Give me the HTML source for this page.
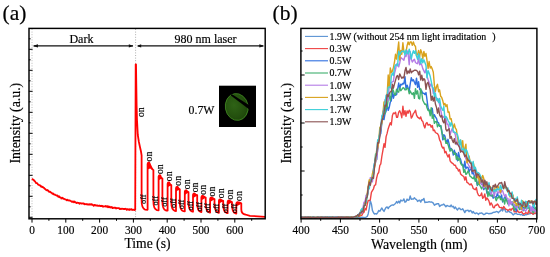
<!DOCTYPE html>
<html><head><meta charset="utf-8"><style>
html,body{margin:0;padding:0;background:#fff;width:550px;height:257px;overflow:hidden;font-family:"Liberation Serif",serif;}
svg{display:block;} text{filter:grayscale(1);stroke:#000;stroke-width:0.18px;}
</style></head><body>
<svg width="550" height="257" viewBox="0 0 550 257">
<rect width="550" height="257" fill="#fff"/>
<text x="2.6" y="19.6" font-size="21.5" font-family="'Liberation Serif', serif">(a)</text>
<text x="272.6" y="19.6" font-size="21.5" font-family="'Liberation Serif', serif">(b)</text>
<line x1="32.0" y1="29" x2="32.0" y2="218" stroke="#aaa" stroke-width="0.8" stroke-dasharray="1,1.6"/>
<line x1="135.6" y1="29" x2="135.6" y2="218" stroke="#999" stroke-width="0.8" stroke-dasharray="1,1.6"/>
<line x1="34" y1="45.9" x2="133" y2="45.9" stroke="#111" stroke-width="1.15"/>
<path d="M32.3,45.9 L38.0,44.3 L38.0,47.5 Z" fill="#111"/>
<path d="M133.4,45.9 L128.8,44.3 L128.8,47.5 Z" fill="#111"/>
<line x1="138" y1="45.9" x2="263" y2="45.9" stroke="#111" stroke-width="1.15"/>
<path d="M136.6,45.9 L141.2,44.3 L141.2,47.5 Z" fill="#111"/>
<path d="M264.6,45.9 L259.3,44.3 L259.3,47.5 Z" fill="#111"/>
<text x="81.4" y="42.6" font-size="12" text-anchor="middle" font-family="'Liberation Serif', serif">Dark</text>
<text x="205.6" y="42.6" font-size="12" text-anchor="middle" font-family="'Liberation Serif', serif">980 nm laser</text>
<path d="M32.0,178.6 L32.6,179.3 L33.2,179.7 L33.8,180.1 L34.4,180.9 L35.0,181.3 L35.6,182.3 L36.2,183.2 L36.8,183.1 L37.4,183.5 L38.0,184.4 L38.6,184.8 L39.2,185.1 L39.8,185.2 L40.4,185.9 L41.0,186.6 L41.6,186.3 L42.2,187.1 L42.8,187.0 L43.4,187.6 L44.0,187.8 L44.6,188.8 L45.2,188.8 L45.8,189.7 L46.4,190.1 L47.0,190.3 L47.6,189.9 L48.2,190.9 L48.8,191.5 L49.4,191.9 L50.0,191.6 L50.6,192.3 L51.2,192.5 L51.8,192.9 L52.4,193.8 L53.0,193.5 L53.6,194.1 L54.2,194.7 L54.8,194.5 L55.4,195.0 L56.0,195.3 L56.6,195.6 L57.2,195.4 L57.8,196.2 L58.4,196.9 L59.0,196.2 L59.6,197.3 L60.2,197.3 L60.8,197.3 L61.4,198.5 L62.0,198.3 L62.6,197.8 L63.2,198.5 L63.8,198.9 L64.4,198.9 L65.0,199.4 L65.6,199.4 L66.2,199.8 L66.8,200.3 L67.4,199.8 L68.0,200.3 L68.6,200.3 L69.2,200.7 L69.8,200.4 L70.4,200.8 L71.0,201.1 L71.6,201.7 L72.2,202.0 L72.8,201.3 L73.4,201.6 L74.0,202.3 L74.6,201.5 L75.2,202.2 L75.8,202.4 L76.4,203.0 L77.0,202.9 L77.6,202.7 L78.2,202.8 L78.8,202.9 L79.4,203.7 L80.0,203.1 L80.6,203.2 L81.2,203.5 L81.8,203.5 L82.4,203.5 L83.0,203.3 L83.6,203.8 L84.2,203.7 L84.8,204.3 L85.4,204.2 L86.0,204.1 L86.6,204.4 L87.2,204.1 L87.8,204.7 L88.4,204.4 L89.0,204.7 L89.6,204.1 L90.2,204.7 L90.8,204.1 L91.4,204.1 L92.0,204.8 L92.6,204.6 L93.2,205.1 L93.8,205.9 L94.4,204.9 L95.0,205.0 L95.6,205.4 L96.2,205.6 L96.8,205.4 L97.4,205.5 L98.0,205.9 L98.6,205.9 L99.2,205.5 L99.8,205.9 L100.4,206.0 L101.0,205.7 L101.6,206.2 L102.2,205.9 L102.8,206.6 L103.4,206.4 L104.0,206.5 L104.6,206.3 L105.2,206.5 L105.8,205.9 L106.4,206.3 L107.0,206.9 L107.6,206.1 L108.2,207.2 L108.8,206.4 L109.4,207.3 L110.0,206.8 L110.6,207.5 L111.2,207.4 L111.8,206.9 L112.4,208.0 L113.0,208.1 L113.6,207.7 L114.2,207.7 L114.8,207.9 L115.4,207.7 L116.0,208.5 L116.6,208.0 L117.2,208.2 L117.8,208.1 L118.4,208.2 L119.0,208.1 L119.6,209.0 L120.2,208.6 L120.8,209.1 L121.4,208.8 L122.0,208.6 L122.6,208.8 L123.2,208.8 L123.8,209.1 L124.4,209.0 L125.0,209.1 L125.6,208.7 L126.2,209.0 L126.8,209.9 L127.4,209.2 L128.0,209.1 L128.6,209.6 L129.2,210.0 L129.8,209.1 L130.4,209.6 L131.0,209.5 L131.6,209.1 L132.2,210.0 L132.8,209.8 L133.4,209.9 L134.0,209.6 L134.6,210.1 L135.2,209.8 L135.7,64.3 L136.0,64.3 L136.3,85 L136.6,105 L137.0,120 L137.8,135 L138.9,142 L139.9,146.7 L141.0,151.5 L141.6,155.5 L141.6,200.6 Q141.6,208.6 145.1,209.6 L147.6,209.8 L147.6,164.1 Q148.0,162.1 149.2,162.6 Q151.9,169.5 153.4,170.0 L153.4,201.1 Q153.4,209.1 156.9,210.1 L158.6,210.3 L158.6,176.8 Q159.0,174.8 160.2,175.3 Q160.9,178.0 162.4,178.5 L162.4,201.5 Q162.4,209.5 165.9,210.5 L167.6,210.7 L167.6,183.9 Q168.0,181.9 169.2,182.4 Q169.8,184.5 171.3,185.0 L171.3,201.8 Q171.3,209.8 174.8,210.8 L176.0,211.0 L176.0,188.4 Q176.4,186.4 177.6,186.9 Q178.3,188.8 179.8,189.3 L179.8,202.2 Q179.8,210.2 183.3,211.2 L184.8,211.4 L184.8,191.9 Q185.2,189.9 186.4,190.4 Q187.0,191.7 188.5,192.2 L188.5,202.5 Q188.5,210.5 192.0,211.5 L193.0,211.7 L193.0,195.0 Q193.4,193.0 194.6,193.5 Q195.7,194.7 197.2,195.2 L197.2,202.9 Q197.2,210.9 200.7,211.9 L201.4,212.1 L201.4,197.4 Q201.8,195.4 203.0,195.9 Q204.2,197.0 205.7,197.5 L205.7,203.3 Q205.7,211.3 209.2,212.3 L210.1,212.5 L210.1,199.1 Q210.5,197.1 211.7,197.6 Q213.0,198.5 214.5,199.0 L214.5,203.6 Q214.5,211.6 218.0,212.6 L218.9,212.8 L218.9,200.9 Q219.3,198.9 220.5,199.4 Q221.7,200.3 223.2,200.8 L223.2,204.0 Q223.2,212.0 226.7,213.0 L227.6,213.2 L227.6,202.1 Q228.0,200.1 229.2,200.6 Q230.5,201.5 232.0,202.0 L232.0,204.4 Q232.0,212.4 235.5,213.4 L236.3,213.6 L236.3,203.7 Q236.7,201.7 237.9,202.2 Q239.8,202.8 241.3,203.3 L241.3,209.2 Q241.3,213.7 245.3,214.5 L250,215.8 L265,216.8" fill="none" stroke="#f00" stroke-width="1.8" stroke-linejoin="round"/>
<path d="M147.6,163.4 L148.4,162.3 L153.1,169.8 L153.1,170.6 L150.2,168.5 L147.6,169.4 Z" fill="#f00"/>
<path d="M158.6,176.1 L159.4,175.0 L162.1,178.3 L162.1,179.1 L160.3,179.3 L158.6,180.4 Z" fill="#f00"/>
<path d="M167.6,183.2 L168.4,182.1 L171.0,184.8 L171.0,185.6 L169.3,186.2 L167.6,187.2 Z" fill="#f00"/>
<path d="M176.0,187.7 L176.8,186.6 L179.5,189.1 L179.5,189.9 L177.7,190.6 L176.0,191.7 Z" fill="#f00"/>
<path d="M184.8,191.2 L185.6,190.1 L188.2,192.0 L188.2,192.8 L186.5,193.8 L184.8,194.9 Z" fill="#f00"/>
<path d="M193.0,194.3 L193.8,193.2 L196.9,195.0 L196.9,195.8 L194.9,196.9 L193.0,198.0 Z" fill="#f00"/>
<path d="M201.4,196.7 L202.2,195.6 L205.4,197.3 L205.4,198.1 L203.3,199.2 L201.4,200.3 Z" fill="#f00"/>
<path d="M210.1,198.4 L210.9,197.3 L214.2,198.8 L214.2,199.6 L212.1,200.8 L210.1,202.0 Z" fill="#f00"/>
<path d="M218.9,200.2 L219.7,199.1 L222.9,200.6 L222.9,201.4 L220.8,202.6 L218.9,203.8 Z" fill="#f00"/>
<path d="M227.6,201.4 L228.4,200.3 L231.7,201.8 L231.7,202.6 L229.6,203.8 L227.6,205.0 Z" fill="#f00"/>
<path d="M236.3,203.0 L237.1,201.9 L241.0,203.1 L241.0,203.9 L238.6,205.3 L236.3,206.4 Z" fill="#f00"/>
<text transform="translate(143.8,117.1) rotate(-90)" font-size="9.8" font-family="'Liberation Serif', serif">on</text>
<text transform="translate(152.0,161.4) rotate(-90)" font-size="9.8" font-family="'Liberation Serif', serif">on</text>
<text transform="translate(163.1,174.1) rotate(-90)" font-size="9.8" font-family="'Liberation Serif', serif">on</text>
<text transform="translate(172.2,181.2) rotate(-90)" font-size="9.8" font-family="'Liberation Serif', serif">on</text>
<text transform="translate(180.7,185.7) rotate(-90)" font-size="9.8" font-family="'Liberation Serif', serif">on</text>
<text transform="translate(189.6,189.2) rotate(-90)" font-size="9.8" font-family="'Liberation Serif', serif">on</text>
<text transform="translate(197.9,192.3) rotate(-90)" font-size="9.8" font-family="'Liberation Serif', serif">on</text>
<text transform="translate(206.3,194.7) rotate(-90)" font-size="9.8" font-family="'Liberation Serif', serif">on</text>
<text transform="translate(215.1,196.4) rotate(-90)" font-size="9.8" font-family="'Liberation Serif', serif">on</text>
<text transform="translate(224.0,198.2) rotate(-90)" font-size="9.8" font-family="'Liberation Serif', serif">on</text>
<text transform="translate(232.8,199.4) rotate(-90)" font-size="9.8" font-family="'Liberation Serif', serif">on</text>
<text transform="translate(241.6,201.0) rotate(-90)" font-size="9.8" font-family="'Liberation Serif', serif">on</text>
<text transform="translate(146.2,203.9) rotate(-90)" font-size="8.3" font-family="'Liberation Serif', serif">off</text>
<text transform="translate(158.0,205.6) rotate(-90)" font-size="8.3" font-family="'Liberation Serif', serif">off</text>
<text transform="translate(167.0,206.8) rotate(-90)" font-size="8.3" font-family="'Liberation Serif', serif">off</text>
<text transform="translate(175.9,208.0) rotate(-90)" font-size="8.3" font-family="'Liberation Serif', serif">off</text>
<text transform="translate(184.4,209.2) rotate(-90)" font-size="8.3" font-family="'Liberation Serif', serif">off</text>
<text transform="translate(193.1,210.4) rotate(-90)" font-size="8.3" font-family="'Liberation Serif', serif">off</text>
<text transform="translate(201.8,211.6) rotate(-90)" font-size="8.3" font-family="'Liberation Serif', serif">off</text>
<text transform="translate(210.3,212.8) rotate(-90)" font-size="8.3" font-family="'Liberation Serif', serif">off</text>
<text transform="translate(219.1,213.2) rotate(-90)" font-size="8.3" font-family="'Liberation Serif', serif">off</text>
<text transform="translate(227.8,213.2) rotate(-90)" font-size="8.3" font-family="'Liberation Serif', serif">off</text>
<text transform="translate(236.6,213.2) rotate(-90)" font-size="8.3" font-family="'Liberation Serif', serif">off</text>
<text x="188.6" y="113.5" font-size="11.8" font-family="'Liberation Serif', serif">0.7W</text>
<rect x="219" y="85.7" width="37" height="41.3" fill="#000"/>
<defs><radialGradient id="gg" cx="0.4" cy="0.42" r="0.65"><stop offset="0" stop-color="#2f6316"/><stop offset="0.6" stop-color="#25520f"/><stop offset="0.9" stop-color="#1f480b"/><stop offset="1" stop-color="#2c6a14"/></radialGradient></defs>
<ellipse cx="236.7" cy="107.0" rx="11.4" ry="13.5" fill="url(#gg)" stroke="#4a9a28" stroke-width="0.8" stroke-opacity="0.8" transform="rotate(-10 236.6 106.9)"/>
<path d="M231.6,93.9 L250.5,106.0 L249.0,109.2 L230.8,95.4 Z" fill="#000"/>
<rect x="29.0" y="28.4" width="236.2" height="190.4" fill="none" stroke="#000" stroke-width="1.45"/>
<line x1="32.0" y1="218.8" x2="32.0" y2="222.6" stroke="#000" stroke-width="1"/>
<text transform="translate(32.0,234.4) scale(0.93,1)" font-size="12.2" text-anchor="middle" font-family="'Liberation Serif', serif">0</text>
<line x1="65.8" y1="218.8" x2="65.8" y2="222.6" stroke="#000" stroke-width="1"/>
<text transform="translate(65.8,234.4) scale(0.93,1)" font-size="12.2" text-anchor="middle" font-family="'Liberation Serif', serif">100</text>
<line x1="99.6" y1="218.8" x2="99.6" y2="222.6" stroke="#000" stroke-width="1"/>
<text transform="translate(99.6,234.4) scale(0.93,1)" font-size="12.2" text-anchor="middle" font-family="'Liberation Serif', serif">200</text>
<line x1="133.4" y1="218.8" x2="133.4" y2="222.6" stroke="#000" stroke-width="1"/>
<text transform="translate(133.4,234.4) scale(0.93,1)" font-size="12.2" text-anchor="middle" font-family="'Liberation Serif', serif">300</text>
<line x1="167.2" y1="218.8" x2="167.2" y2="222.6" stroke="#000" stroke-width="1"/>
<text transform="translate(167.2,234.4) scale(0.93,1)" font-size="12.2" text-anchor="middle" font-family="'Liberation Serif', serif">400</text>
<line x1="201.0" y1="218.8" x2="201.0" y2="222.6" stroke="#000" stroke-width="1"/>
<text transform="translate(201.0,234.4) scale(0.93,1)" font-size="12.2" text-anchor="middle" font-family="'Liberation Serif', serif">500</text>
<line x1="234.8" y1="218.8" x2="234.8" y2="222.6" stroke="#000" stroke-width="1"/>
<text transform="translate(234.8,234.4) scale(0.93,1)" font-size="12.2" text-anchor="middle" font-family="'Liberation Serif', serif">600</text>
<line x1="48.9" y1="218.8" x2="48.9" y2="220.8" stroke="#000" stroke-width="1"/>
<line x1="82.7" y1="218.8" x2="82.7" y2="220.8" stroke="#000" stroke-width="1"/>
<line x1="116.5" y1="218.8" x2="116.5" y2="220.8" stroke="#000" stroke-width="1"/>
<line x1="150.3" y1="218.8" x2="150.3" y2="220.8" stroke="#000" stroke-width="1"/>
<line x1="184.1" y1="218.8" x2="184.1" y2="220.8" stroke="#000" stroke-width="1"/>
<line x1="217.9" y1="218.8" x2="217.9" y2="220.8" stroke="#000" stroke-width="1"/>
<line x1="251.7" y1="218.8" x2="251.7" y2="220.8" stroke="#000" stroke-width="1"/>
<line x1="28.9" y1="217.3" x2="32.6" y2="217.3" stroke="#000" stroke-width="1"/>
<line x1="28.9" y1="206.8" x2="30.6" y2="206.8" stroke="#000" stroke-width="1"/>
<line x1="28.9" y1="196.3" x2="32.6" y2="196.3" stroke="#000" stroke-width="1"/>
<line x1="28.9" y1="185.8" x2="30.6" y2="185.8" stroke="#000" stroke-width="1"/>
<line x1="28.9" y1="175.3" x2="32.6" y2="175.3" stroke="#000" stroke-width="1"/>
<line x1="28.9" y1="164.8" x2="30.6" y2="164.8" stroke="#000" stroke-width="1"/>
<line x1="28.9" y1="154.3" x2="32.6" y2="154.3" stroke="#000" stroke-width="1"/>
<line x1="28.9" y1="143.8" x2="30.6" y2="143.8" stroke="#000" stroke-width="1"/>
<line x1="28.9" y1="133.3" x2="32.6" y2="133.3" stroke="#000" stroke-width="1"/>
<line x1="28.9" y1="122.8" x2="30.6" y2="122.8" stroke="#000" stroke-width="1"/>
<line x1="28.9" y1="112.3" x2="32.6" y2="112.3" stroke="#000" stroke-width="1"/>
<line x1="28.9" y1="101.8" x2="30.6" y2="101.8" stroke="#000" stroke-width="1"/>
<line x1="28.9" y1="91.3" x2="32.6" y2="91.3" stroke="#000" stroke-width="1"/>
<line x1="28.9" y1="80.8" x2="30.6" y2="80.8" stroke="#000" stroke-width="1"/>
<line x1="28.9" y1="70.3" x2="32.6" y2="70.3" stroke="#000" stroke-width="1"/>
<line x1="28.9" y1="59.8" x2="30.6" y2="59.8" stroke="#000" stroke-width="1"/>
<line x1="28.9" y1="49.3" x2="32.6" y2="49.3" stroke="#000" stroke-width="1"/>
<line x1="28.9" y1="38.8" x2="30.6" y2="38.8" stroke="#000" stroke-width="1"/>
<text x="147.5" y="247.6" font-size="13.6" text-anchor="middle" font-family="'Liberation Serif', serif">Time (s)</text>
<text transform="translate(19.7,123.2) rotate(-90)" font-size="13.8" text-anchor="middle" font-family="'Liberation Serif', serif">Intensity (a.u.)</text>
<polyline points="301.0,217.4 302.1,217.3 303.1,217.3 304.2,217.6 305.2,217.3 306.3,217.4 307.3,217.4 308.4,217.3 309.4,217.3 310.5,217.5 311.5,217.4 312.6,217.4 313.6,217.4 314.7,217.5 315.7,217.5 316.8,217.4 317.8,217.3 318.9,217.2 319.9,217.5 321.0,217.5 322.0,217.4 323.1,217.5 324.1,217.5 325.2,217.5 326.2,217.5 327.3,217.3 328.3,217.6 329.4,217.3 330.4,217.5 331.5,217.5 332.5,217.5 333.6,217.6 334.6,217.6 335.7,217.3 336.7,217.2 337.8,217.5 338.8,217.3 339.9,217.4 340.9,217.5 342.0,217.2 343.0,217.1 344.1,217.4 345.1,217.4 346.2,217.4 347.2,217.4 348.3,217.3 349.3,217.2 350.4,217.4 351.4,217.3 352.5,217.2 353.5,217.5 354.6,217.4 355.6,217.4 356.7,217.3 357.7,217.3 358.8,217.3 359.8,217.3 360.9,217.4 361.9,217.3 363.0,217.4 364.0,217.4 365.1,217.6 366.1,217.2 367.2,216.5 368.2,213.9 369.3,208.3 370.3,200.7 371.4,203.9 372.4,210.4 373.5,212.8 374.5,214.0 375.6,213.6 376.6,214.0 377.7,212.6 378.7,210.5 379.8,211.3 380.8,209.7 381.9,208.0 382.9,210.0 384.0,211.4 385.0,209.3 386.1,207.3 387.1,206.9 388.2,208.6 389.2,206.8 390.3,206.1 391.3,205.3 392.4,204.9 393.4,205.2 394.5,204.3 395.5,203.5 396.6,201.6 397.6,203.0 398.7,201.2 399.7,203.0 400.8,199.9 401.8,200.9 402.9,200.7 403.9,198.9 405.0,202.2 406.0,201.6 407.1,199.1 408.1,200.4 409.2,199.8 410.2,196.0 411.3,199.4 412.3,198.9 413.4,199.1 414.4,197.8 415.5,199.1 416.5,199.5 417.6,201.4 418.6,200.5 419.7,200.2 420.7,202.1 421.8,199.7 422.8,200.0 423.9,198.4 424.9,202.6 426.0,202.1 427.0,202.2 428.1,202.1 429.1,201.7 430.2,202.1 431.2,201.9 432.3,202.4 433.3,203.1 434.4,205.3 435.4,204.5 436.5,204.0 437.5,203.6 438.6,203.7 439.6,206.5 440.7,205.4 441.7,205.0 442.8,204.7 443.8,204.1 444.9,205.5 445.9,206.8 447.0,205.5 448.0,205.9 449.1,206.2 450.1,206.7 451.2,205.0 452.2,206.8 453.3,206.3 454.3,208.5 455.4,207.0 456.4,208.7 457.5,210.0 458.5,208.3 459.6,208.3 460.6,209.5 461.7,209.6 462.7,208.8 463.8,210.7 464.8,212.6 465.9,210.4 466.9,210.7 468.0,210.2 469.0,211.7 470.1,210.5 471.1,210.9 472.2,213.0 473.2,211.5 474.3,213.2 475.3,213.7 476.4,212.9 477.4,213.3 478.5,214.4 479.5,213.2 480.6,213.2 481.6,212.9 482.7,213.8 483.7,214.6 484.8,214.3 485.8,213.2 486.9,213.2 487.9,213.4 489.0,213.8 490.0,213.4 491.1,213.5 492.1,213.2 493.2,212.4 494.2,212.2 495.3,212.1 496.3,211.5 497.4,211.6 498.4,212.7 499.5,211.4 500.5,210.8 501.6,208.9 502.6,211.0 503.7,208.6 504.7,209.3 505.8,211.9 506.8,212.1 507.9,211.8 508.9,210.9 510.0,212.3 511.0,212.5 512.1,213.6 513.1,214.9 514.2,213.9 515.2,213.5 516.3,213.5 517.3,214.3 518.4,214.4 519.4,214.1 520.5,214.8 521.5,214.3 522.6,215.3 523.6,215.2 524.7,215.2 525.7,214.4 526.8,214.7 527.8,214.2 528.9,213.9 529.9,213.8 531.0,213.2 532.0,212.9 533.1,214.1 534.1,213.3 535.2,213.4 536.2,213.8" fill="none" stroke="#5b93d3" stroke-width="1.4" stroke-linejoin="round"/>
<polyline points="301.0,217.2 302.1,217.3 303.1,217.4 304.2,217.4 305.2,217.4 306.3,217.5 307.3,217.4 308.4,217.3 309.4,217.3 310.5,217.5 311.5,217.5 312.6,217.2 313.6,217.6 314.7,217.5 315.7,217.6 316.8,217.4 317.8,217.4 318.9,217.3 319.9,217.7 321.0,217.4 322.0,217.6 323.1,217.3 324.1,217.4 325.2,217.2 326.2,217.4 327.3,217.5 328.3,217.2 329.4,217.5 330.4,217.4 331.5,217.3 332.5,217.3 333.6,217.3 334.6,217.4 335.7,217.3 336.7,217.3 337.8,217.4 338.8,217.3 339.9,217.2 340.9,217.4 342.0,217.5 343.0,217.2 344.1,217.4 345.1,217.3 346.2,217.3 347.2,217.5 348.3,217.3 349.3,217.6 350.4,217.3 351.4,217.4 352.5,217.4 353.5,217.3 354.6,217.5 355.6,217.3 356.7,217.2 357.7,216.9 358.8,216.3 359.8,216.0 360.9,215.4 361.9,215.2 363.0,212.9 364.0,212.4 365.1,208.5 366.1,209.9 367.2,204.4 368.2,200.4 369.3,200.6 370.3,199.9 371.4,192.3 372.4,190.6 373.5,188.8 374.5,185.3 375.6,184.9 376.6,178.2 377.7,173.9 378.7,172.5 379.8,165.5 380.8,163.8 381.9,156.0 382.9,150.4 384.0,143.8 385.0,147.4 386.1,136.6 387.1,133.4 388.2,128.7 389.2,125.8 390.3,122.7 391.3,125.0 392.4,115.4 393.4,113.0 394.5,113.6 395.5,112.2 396.6,117.3 397.6,117.2 398.7,112.1 399.7,110.8 400.8,113.3 401.8,117.7 402.9,106.2 403.9,115.0 405.0,110.6 406.0,116.4 407.1,110.9 408.1,113.2 409.2,110.2 410.2,111.7 411.3,118.1 412.3,116.6 413.4,113.5 414.4,112.4 415.5,110.2 416.5,115.1 417.6,117.1 418.6,117.9 419.7,118.8 420.7,116.9 421.8,120.5 422.8,121.4 423.9,125.6 424.9,127.9 426.0,123.5 427.0,122.6 428.1,125.2 429.1,124.5 430.2,124.8 431.2,127.2 432.3,125.5 433.3,130.6 434.4,130.1 435.4,132.5 436.5,133.1 437.5,133.6 438.6,135.5 439.6,139.9 440.7,141.8 441.7,146.2 442.8,148.1 443.8,147.3 444.9,152.9 445.9,151.4 447.0,154.8 448.0,157.0 449.1,154.4 450.1,160.8 451.2,162.4 452.2,163.1 453.3,163.9 454.3,165.3 455.4,165.3 456.4,168.0 457.5,168.5 458.5,171.1 459.6,169.6 460.6,174.0 461.7,175.1 462.7,175.8 463.8,176.5 464.8,180.0 465.9,176.8 466.9,182.3 468.0,182.9 469.0,183.9 470.1,184.9 471.1,183.8 472.2,185.6 473.2,188.4 474.3,189.1 475.3,189.7 476.4,187.6 477.4,192.8 478.5,195.2 479.5,195.9 480.6,195.4 481.6,192.9 482.7,198.4 483.7,197.3 484.8,194.0 485.8,200.3 486.9,197.9 487.9,199.2 489.0,201.1 490.0,205.1 491.1,202.9 492.1,204.5 493.2,207.5 494.2,207.7 495.3,205.2 496.3,205.4 497.4,204.0 498.4,205.3 499.5,207.4 500.5,207.6 501.6,207.4 502.6,209.1 503.7,206.5 504.7,207.9 505.8,209.4 506.8,209.5 507.9,210.6 508.9,209.8 510.0,209.0 511.0,210.4 512.1,208.6 513.1,208.1 514.2,211.8 515.2,211.3 516.3,212.1 517.3,210.1 518.4,212.1 519.4,212.3 520.5,212.4 521.5,211.4 522.6,213.2 523.6,214.2 524.7,213.7 525.7,212.7 526.8,213.1 527.8,213.8 528.9,210.2 529.9,212.6 531.0,213.1 532.0,213.2 533.1,214.2 534.1,213.6 535.2,212.9 536.2,213.1" fill="none" stroke="#ef4343" stroke-width="1.4" stroke-linejoin="round"/>
<polyline points="301.0,217.5 302.1,217.3 303.1,217.4 304.2,217.5 305.2,217.6 306.3,217.4 307.3,217.4 308.4,217.4 309.4,217.6 310.5,217.4 311.5,217.6 312.6,217.3 313.6,217.4 314.7,217.4 315.7,217.5 316.8,217.5 317.8,217.2 318.9,217.3 319.9,217.4 321.0,217.3 322.0,217.2 323.1,217.5 324.1,217.5 325.2,217.5 326.2,217.3 327.3,217.5 328.3,217.4 329.4,217.5 330.4,217.3 331.5,217.3 332.5,217.4 333.6,217.3 334.6,217.5 335.7,217.4 336.7,217.3 337.8,217.4 338.8,217.4 339.9,217.5 340.9,217.3 342.0,217.3 343.0,217.5 344.1,217.7 345.1,217.6 346.2,217.4 347.2,217.4 348.3,217.6 349.3,217.4 350.4,217.3 351.4,217.4 352.5,217.4 353.5,217.1 354.6,216.6 355.6,216.2 356.7,216.5 357.7,215.2 358.8,214.6 359.8,213.9 360.9,213.3 361.9,210.4 363.0,210.1 364.0,204.8 365.1,202.7 366.1,197.4 367.2,197.1 368.2,188.9 369.3,181.3 370.3,180.0 371.4,178.9 372.4,179.1 373.5,168.6 374.5,163.3 375.6,158.5 376.6,159.8 377.7,148.8 378.7,139.5 379.8,135.4 380.8,133.4 381.9,122.0 382.9,118.2 384.0,119.6 385.0,113.6 386.1,111.1 387.1,104.6 388.2,110.4 389.2,107.6 390.3,102.0 391.3,100.9 392.4,90.3 393.4,98.2 394.5,94.2 395.5,95.2 396.6,94.6 397.6,89.3 398.7,83.0 399.7,89.1 400.8,84.2 401.8,84.8 402.9,83.3 403.9,83.9 405.0,76.7 406.0,88.7 407.1,85.1 408.1,88.0 409.2,91.0 410.2,84.1 411.3,77.7 412.3,80.9 413.4,79.8 414.4,82.3 415.5,84.7 416.5,78.2 417.6,87.3 418.6,81.8 419.7,89.6 420.7,89.8 421.8,90.9 422.8,93.4 423.9,93.3 424.9,94.6 426.0,92.6 427.0,99.9 428.1,108.1 429.1,110.6 430.2,110.5 431.2,110.7 432.3,108.3 433.3,117.4 434.4,114.7 435.4,116.9 436.5,118.5 437.5,122.1 438.6,122.9 439.6,126.4 440.7,125.5 441.7,129.8 442.8,139.9 443.8,134.6 444.9,136.0 445.9,140.3 447.0,142.8 448.0,139.3 449.1,143.8 450.1,148.9 451.2,148.5 452.2,149.6 453.3,155.1 454.3,150.1 455.4,153.7 456.4,153.5 457.5,160.7 458.5,152.5 459.6,157.5 460.6,159.3 461.7,163.8 462.7,164.8 463.8,168.1 464.8,161.2 465.9,168.7 466.9,167.1 468.0,167.4 469.0,172.0 470.1,169.5 471.1,167.9 472.2,173.8 473.2,172.3 474.3,175.9 475.3,179.8 476.4,181.0 477.4,185.5 478.5,182.3 479.5,180.3 480.6,183.5 481.6,184.3 482.7,184.7 483.7,189.6 484.8,188.0 485.8,185.9 486.9,193.1 487.9,192.1 489.0,194.0 490.0,194.2 491.1,196.0 492.1,195.1 493.2,198.2 494.2,196.7 495.3,196.9 496.3,197.2 497.4,193.3 498.4,196.4 499.5,196.5 500.5,197.9 501.6,194.9 502.6,202.0 503.7,199.2 504.7,197.0 505.8,196.7 506.8,200.4 507.9,201.5 508.9,200.8 510.0,203.0 511.0,202.1 512.1,205.1 513.1,203.0 514.2,205.0 515.2,207.6 516.3,211.2 517.3,204.5 518.4,206.0 519.4,205.6 520.5,209.1 521.5,205.7 522.6,207.3 523.6,208.5 524.7,207.0 525.7,207.2 526.8,208.3 527.8,205.3 528.9,206.5 529.9,208.5 531.0,209.6 532.0,208.9 533.1,205.9 534.1,208.4 535.2,210.8 536.2,210.4" fill="none" stroke="#2f6fe0" stroke-width="1.4" stroke-linejoin="round"/>
<polyline points="301.0,217.4 302.1,217.3 303.1,217.5 304.2,217.3 305.2,217.3 306.3,217.3 307.3,217.6 308.4,217.4 309.4,217.5 310.5,217.3 311.5,217.5 312.6,217.3 313.6,217.4 314.7,217.7 315.7,217.5 316.8,217.3 317.8,217.4 318.9,217.4 319.9,217.5 321.0,217.3 322.0,217.2 323.1,217.4 324.1,217.4 325.2,217.4 326.2,217.6 327.3,217.4 328.3,217.5 329.4,217.3 330.4,217.5 331.5,217.7 332.5,217.5 333.6,217.4 334.6,217.4 335.7,217.6 336.7,217.3 337.8,217.4 338.8,217.5 339.9,217.5 340.9,217.3 342.0,217.4 343.0,217.4 344.1,217.4 345.1,217.4 346.2,217.3 347.2,217.4 348.3,217.5 349.3,217.3 350.4,217.4 351.4,217.5 352.5,217.3 353.5,217.3 354.6,216.8 355.6,216.9 356.7,217.0 357.7,216.6 358.8,214.6 359.8,214.4 360.9,212.7 361.9,211.2 363.0,211.9 364.0,204.1 365.1,205.5 366.1,199.5 367.2,197.5 368.2,189.4 369.3,181.6 370.3,181.6 371.4,181.2 372.4,177.4 373.5,174.0 374.5,164.8 375.6,153.9 376.6,155.0 377.7,148.0 378.7,140.2 379.8,133.5 380.8,130.1 381.9,121.0 382.9,116.3 384.0,113.5 385.0,113.7 386.1,102.5 387.1,107.8 388.2,99.3 389.2,95.3 390.3,100.5 391.3,93.7 392.4,88.5 393.4,90.8 394.5,94.4 395.5,94.8 396.6,89.2 397.6,91.5 398.7,92.2 399.7,87.6 400.8,90.7 401.8,89.4 402.9,87.8 403.9,88.0 405.0,89.9 406.0,89.9 407.1,88.0 408.1,88.6 409.2,93.7 410.2,90.9 411.3,93.3 412.3,94.5 413.4,92.7 414.4,98.4 415.5,88.6 416.5,94.1 417.6,90.8 418.6,98.4 419.7,98.9 420.7,88.6 421.8,93.4 422.8,100.3 423.9,102.5 424.9,104.4 426.0,104.0 427.0,107.8 428.1,110.5 429.1,110.2 430.2,115.7 431.2,107.6 432.3,118.4 433.3,115.3 434.4,123.3 435.4,121.6 436.5,121.4 437.5,126.8 438.6,124.5 439.6,125.9 440.7,125.7 441.7,132.0 442.8,135.6 443.8,139.2 444.9,137.9 445.9,143.4 447.0,142.6 448.0,144.4 449.1,148.2 450.1,151.2 451.2,148.9 452.2,150.7 453.3,152.3 454.3,154.3 455.4,153.0 456.4,159.3 457.5,156.7 458.5,160.2 459.6,158.3 460.6,163.2 461.7,165.1 462.7,164.8 463.8,172.4 464.8,169.6 465.9,174.4 466.9,173.6 468.0,171.0 469.0,173.0 470.1,176.4 471.1,176.8 472.2,178.1 473.2,178.7 474.3,176.4 475.3,181.3 476.4,177.8 477.4,185.0 478.5,183.6 479.5,184.7 480.6,186.8 481.6,188.9 482.7,186.0 483.7,186.2 484.8,188.5 485.8,187.2 486.9,190.3 487.9,196.6 489.0,191.6 490.0,195.9 491.1,192.1 492.1,196.2 493.2,195.3 494.2,196.2 495.3,197.9 496.3,200.7 497.4,197.7 498.4,197.9 499.5,196.0 500.5,199.6 501.6,198.4 502.6,201.1 503.7,199.8 504.7,204.0 505.8,197.1 506.8,201.1 507.9,204.0 508.9,202.1 510.0,201.8 511.0,203.4 512.1,201.8 513.1,205.2 514.2,210.2 515.2,208.2 516.3,204.5 517.3,205.4 518.4,206.6 519.4,209.6 520.5,206.6 521.5,207.2 522.6,210.4 523.6,210.7 524.7,208.7 525.7,207.6 526.8,207.0 527.8,208.5 528.9,205.8 529.9,211.1 531.0,208.5 532.0,210.4 533.1,212.8 534.1,211.4 535.2,207.1 536.2,210.7" fill="none" stroke="#3fb06e" stroke-width="1.4" stroke-linejoin="round"/>
<polyline points="301.0,217.5 302.1,217.3 303.1,217.3 304.2,217.4 305.2,217.2 306.3,217.6 307.3,217.1 308.4,217.3 309.4,217.4 310.5,217.4 311.5,217.4 312.6,217.4 313.6,217.4 314.7,217.5 315.7,217.1 316.8,217.4 317.8,217.3 318.9,217.4 319.9,217.4 321.0,217.3 322.0,217.3 323.1,217.5 324.1,217.4 325.2,217.3 326.2,217.6 327.3,217.7 328.3,217.2 329.4,217.4 330.4,217.7 331.5,217.5 332.5,217.4 333.6,217.4 334.6,217.3 335.7,217.4 336.7,217.3 337.8,217.5 338.8,217.4 339.9,217.3 340.9,217.3 342.0,217.4 343.0,217.3 344.1,217.4 345.1,217.5 346.2,217.4 347.2,217.5 348.3,217.4 349.3,217.4 350.4,217.4 351.4,217.4 352.5,217.5 353.5,217.1 354.6,217.2 355.6,216.6 356.7,215.9 357.7,215.3 358.8,214.2 359.8,213.9 360.9,211.6 361.9,213.0 363.0,207.6 364.0,202.1 365.1,201.9 366.1,195.2 367.2,194.4 368.2,191.5 369.3,184.8 370.3,177.6 371.4,177.5 372.4,181.8 373.5,173.6 374.5,166.2 375.6,162.5 376.6,159.6 377.7,149.8 378.7,140.2 379.8,134.5 380.8,129.1 381.9,119.4 382.9,112.1 384.0,109.2 385.0,99.8 386.1,98.9 387.1,96.0 388.2,100.3 389.2,85.9 390.3,85.5 391.3,82.5 392.4,81.9 393.4,81.4 394.5,73.3 395.5,69.5 396.6,63.9 397.6,63.8 398.7,66.9 399.7,63.0 400.8,57.4 401.8,58.5 402.9,59.2 403.9,60.2 405.0,55.6 406.0,56.6 407.1,50.8 408.1,53.8 409.2,64.8 410.2,51.6 411.3,59.3 412.3,62.0 413.4,60.3 414.4,59.2 415.5,62.5 416.5,63.3 417.6,63.7 418.6,57.8 419.7,64.9 420.7,63.1 421.8,65.1 422.8,68.6 423.9,70.9 424.9,72.8 426.0,69.1 427.0,76.2 428.1,79.7 429.1,82.4 430.2,86.1 431.2,83.8 432.3,86.9 433.3,93.6 434.4,89.2 435.4,97.5 436.5,97.8 437.5,101.0 438.6,99.1 439.6,104.5 440.7,109.8 441.7,115.1 442.8,117.7 443.8,116.4 444.9,118.2 445.9,118.2 447.0,124.2 448.0,124.2 449.1,129.0 450.1,134.7 451.2,131.0 452.2,128.4 453.3,132.3 454.3,132.3 455.4,135.0 456.4,144.5 457.5,143.1 458.5,139.8 459.6,148.1 460.6,151.7 461.7,148.8 462.7,149.7 463.8,152.5 464.8,156.0 465.9,158.8 466.9,162.1 468.0,164.0 469.0,165.8 470.1,168.2 471.1,168.1 472.2,164.1 473.2,169.7 474.3,172.6 475.3,172.5 476.4,177.5 477.4,175.8 478.5,175.9 479.5,183.5 480.6,183.0 481.6,183.2 482.7,186.2 483.7,187.7 484.8,187.1 485.8,181.5 486.9,187.0 487.9,188.6 489.0,188.3 490.0,191.8 491.1,194.6 492.1,190.9 493.2,189.4 494.2,196.7 495.3,191.0 496.3,189.1 497.4,192.6 498.4,193.0 499.5,190.4 500.5,193.8 501.6,191.0 502.6,190.6 503.7,194.1 504.7,196.5 505.8,194.6 506.8,198.1 507.9,198.4 508.9,205.8 510.0,199.0 511.0,204.3 512.1,202.1 513.1,202.8 514.2,205.4 515.2,206.5 516.3,207.9 517.3,206.6 518.4,205.2 519.4,205.7 520.5,208.1 521.5,208.5 522.6,210.4 523.6,208.8 524.7,210.2 525.7,211.3 526.8,208.8 527.8,205.6 528.9,206.2 529.9,205.7 531.0,211.5 532.0,206.7 533.1,210.7 534.1,209.3 535.2,211.5 536.2,210.0" fill="none" stroke="#b47be6" stroke-width="1.4" stroke-linejoin="round"/>
<polyline points="301.0,217.4 302.1,217.4 303.1,217.4 304.2,217.4 305.2,217.3 306.3,217.4 307.3,217.6 308.4,217.2 309.4,217.4 310.5,217.3 311.5,217.4 312.6,217.5 313.6,217.4 314.7,217.5 315.7,217.2 316.8,217.5 317.8,217.3 318.9,217.5 319.9,217.4 321.0,217.1 322.0,217.3 323.1,217.4 324.1,217.6 325.2,217.4 326.2,217.4 327.3,217.2 328.3,217.6 329.4,217.6 330.4,217.4 331.5,217.4 332.5,217.2 333.6,217.5 334.6,217.7 335.7,217.5 336.7,217.6 337.8,217.5 338.8,217.3 339.9,217.6 340.9,217.3 342.0,217.4 343.0,217.4 344.1,217.5 345.1,217.4 346.2,217.4 347.2,217.3 348.3,217.2 349.3,217.4 350.4,217.3 351.4,217.2 352.5,217.2 353.5,217.2 354.6,216.6 355.6,216.3 356.7,215.6 357.7,215.7 358.8,215.0 359.8,215.8 360.9,210.5 361.9,209.8 363.0,211.0 364.0,206.2 365.1,202.7 366.1,203.5 367.2,193.7 368.2,186.0 369.3,179.7 370.3,181.8 371.4,180.2 372.4,173.6 373.5,170.0 374.5,167.7 375.6,161.2 376.6,150.6 377.7,148.0 378.7,141.6 379.8,127.6 380.8,126.1 381.9,122.7 382.9,113.6 384.0,101.9 385.0,102.0 386.1,99.6 387.1,96.2 388.2,75.0 389.2,87.0 390.3,68.0 391.3,72.7 392.4,71.0 393.4,67.6 394.5,61.8 395.5,54.3 396.6,59.0 397.6,51.0 398.7,42.0 399.7,60.0 400.8,50.4 401.8,54.3 402.9,42.8 403.9,52.1 405.0,52.4 406.0,52.1 407.1,45.6 408.1,42.0 409.2,44.8 410.2,42.0 411.3,42.0 412.3,45.4 413.4,42.0 414.4,45.1 415.5,46.5 416.5,55.8 417.6,54.4 418.6,50.4 419.7,56.5 420.7,49.8 421.8,52.7 422.8,58.8 423.9,51.4 424.9,56.3 426.0,53.5 427.0,60.6 428.1,68.5 429.1,61.5 430.2,68.0 431.2,66.6 432.3,69.1 433.3,72.3 434.4,85.4 435.4,91.3 436.5,86.6 437.5,84.3 438.6,91.7 439.6,89.8 440.7,96.3 441.7,97.5 442.8,100.8 443.8,105.0 444.9,103.4 445.9,106.5 447.0,104.7 448.0,112.2 449.1,111.9 450.1,119.0 451.2,118.7 452.2,124.6 453.3,128.0 454.3,124.0 455.4,128.1 456.4,129.7 457.5,137.3 458.5,142.5 459.6,141.8 460.6,140.0 461.7,147.9 462.7,140.8 463.8,152.5 464.8,148.2 465.9,144.1 466.9,162.8 468.0,161.7 469.0,155.9 470.1,161.5 471.1,162.4 472.2,165.3 473.2,162.7 474.3,167.0 475.3,172.2 476.4,173.5 477.4,177.8 478.5,176.1 479.5,183.5 480.6,176.4 481.6,180.1 482.7,175.4 483.7,178.3 484.8,186.3 485.8,181.5 486.9,186.5 487.9,185.9 489.0,184.4 490.0,187.2 491.1,187.5 492.1,187.8 493.2,190.9 494.2,190.5 495.3,187.3 496.3,186.2 497.4,188.7 498.4,186.8 499.5,188.7 500.5,192.4 501.6,188.0 502.6,186.8 503.7,187.7 504.7,187.1 505.8,188.2 506.8,189.2 507.9,191.9 508.9,193.0 510.0,196.9 511.0,195.2 512.1,196.7 513.1,195.2 514.2,202.9 515.2,201.2 516.3,205.0 517.3,203.5 518.4,205.8 519.4,202.6 520.5,205.1 521.5,209.4 522.6,200.6 523.6,205.7 524.7,206.7 525.7,203.5 526.8,203.9 527.8,204.9 528.9,200.6 529.9,203.3 531.0,200.7 532.0,201.4 533.1,201.6 534.1,202.5 535.2,202.9 536.2,203.3" fill="none" stroke="#d9a21c" stroke-width="1.4" stroke-linejoin="round"/>
<polyline points="301.0,217.2 302.1,217.6 303.1,217.5 304.2,217.5 305.2,217.4 306.3,217.4 307.3,217.5 308.4,217.5 309.4,217.2 310.5,217.5 311.5,217.8 312.6,217.2 313.6,217.5 314.7,217.4 315.7,217.4 316.8,217.6 317.8,217.3 318.9,217.4 319.9,217.6 321.0,217.4 322.0,217.3 323.1,217.4 324.1,217.3 325.2,217.6 326.2,217.3 327.3,217.5 328.3,217.2 329.4,217.5 330.4,217.4 331.5,217.1 332.5,217.4 333.6,217.3 334.6,217.3 335.7,217.6 336.7,217.3 337.8,217.3 338.8,217.6 339.9,217.4 340.9,217.6 342.0,217.4 343.0,217.3 344.1,217.4 345.1,217.6 346.2,217.5 347.2,217.4 348.3,217.4 349.3,217.4 350.4,217.3 351.4,217.6 352.5,217.4 353.5,217.1 354.6,216.9 355.6,216.8 356.7,216.5 357.7,215.5 358.8,214.2 359.8,213.7 360.9,210.2 361.9,208.6 363.0,210.7 364.0,205.6 365.1,204.2 366.1,202.4 367.2,196.1 368.2,189.0 369.3,188.7 370.3,182.7 371.4,178.5 372.4,179.3 373.5,173.9 374.5,163.7 375.6,159.7 376.6,152.1 377.7,139.9 378.7,139.2 379.8,132.5 380.8,125.7 381.9,115.7 382.9,114.4 384.0,108.9 385.0,103.4 386.1,95.1 387.1,97.8 388.2,87.3 389.2,86.9 390.3,88.1 391.3,76.2 392.4,72.9 393.4,75.6 394.5,67.1 395.5,64.9 396.6,64.6 397.6,65.8 398.7,51.3 399.7,54.9 400.8,52.6 401.8,51.1 402.9,51.4 403.9,50.9 405.0,55.0 406.0,49.9 407.1,53.4 408.1,53.9 409.2,49.1 410.2,52.6 411.3,58.8 412.3,54.0 413.4,50.7 414.4,53.4 415.5,50.7 416.5,56.1 417.6,59.3 418.6,53.7 419.7,57.2 420.7,63.5 421.8,58.6 422.8,62.8 423.9,59.8 424.9,62.4 426.0,65.6 427.0,77.8 428.1,70.6 429.1,73.1 430.2,76.3 431.2,81.1 432.3,87.0 433.3,88.0 434.4,97.2 435.4,93.1 436.5,100.0 437.5,98.6 438.6,102.6 439.6,98.4 440.7,105.7 441.7,108.5 442.8,110.3 443.8,106.3 444.9,118.6 445.9,116.4 447.0,118.1 448.0,120.5 449.1,122.3 450.1,126.2 451.2,122.5 452.2,125.3 453.3,131.0 454.3,132.3 455.4,132.4 456.4,133.6 457.5,134.7 458.5,139.0 459.6,144.8 460.6,139.9 461.7,149.9 462.7,149.9 463.8,148.1 464.8,154.0 465.9,149.4 466.9,150.8 468.0,154.1 469.0,158.6 470.1,160.8 471.1,162.2 472.2,165.9 473.2,161.5 474.3,170.6 475.3,167.1 476.4,170.9 477.4,173.2 478.5,172.7 479.5,173.7 480.6,176.1 481.6,180.0 482.7,182.9 483.7,184.1 484.8,181.3 485.8,182.9 486.9,183.7 487.9,188.0 489.0,182.7 490.0,191.7 491.1,188.1 492.1,187.6 493.2,190.2 494.2,191.7 495.3,189.7 496.3,191.1 497.4,188.3 498.4,190.0 499.5,189.1 500.5,185.3 501.6,189.2 502.6,186.2 503.7,186.3 504.7,184.2 505.8,186.4 506.8,190.6 507.9,187.9 508.9,194.9 510.0,195.7 511.0,196.7 512.1,192.0 513.1,197.9 514.2,200.6 515.2,198.5 516.3,201.4 517.3,196.9 518.4,204.5 519.4,202.5 520.5,206.1 521.5,200.3 522.6,205.5 523.6,203.2 524.7,205.3 525.7,201.3 526.8,201.8 527.8,207.8 528.9,201.3 529.9,201.7 531.0,202.7 532.0,201.3 533.1,206.0 534.1,207.0 535.2,201.5 536.2,199.0" fill="none" stroke="#3ccfd9" stroke-width="1.4" stroke-linejoin="round"/>
<polyline points="301.0,217.5 302.1,217.5 303.1,217.5 304.2,217.5 305.2,217.3 306.3,217.4 307.3,217.2 308.4,217.2 309.4,217.5 310.5,217.3 311.5,217.7 312.6,217.4 313.6,217.3 314.7,217.5 315.7,217.6 316.8,217.5 317.8,217.3 318.9,217.4 319.9,217.6 321.0,217.3 322.0,217.3 323.1,217.5 324.1,217.4 325.2,217.3 326.2,217.4 327.3,217.3 328.3,217.4 329.4,217.4 330.4,217.5 331.5,217.5 332.5,217.2 333.6,217.4 334.6,217.5 335.7,217.5 336.7,217.5 337.8,217.3 338.8,217.3 339.9,217.5 340.9,217.3 342.0,217.1 343.0,217.5 344.1,217.3 345.1,217.4 346.2,217.2 347.2,217.2 348.3,217.3 349.3,217.4 350.4,217.4 351.4,217.1 352.5,217.5 353.5,217.1 354.6,216.8 355.6,216.8 356.7,216.2 357.7,214.8 358.8,216.0 359.8,212.9 360.9,212.8 361.9,211.3 363.0,211.7 364.0,205.8 365.1,205.4 366.1,198.1 367.2,196.9 368.2,187.2 369.3,182.3 370.3,185.4 371.4,180.2 372.4,177.5 373.5,178.3 374.5,167.1 375.6,157.4 376.6,154.5 377.7,142.8 378.7,143.0 379.8,136.8 380.8,125.4 381.9,120.1 382.9,118.0 384.0,112.9 385.0,105.2 386.1,106.1 387.1,94.5 388.2,96.6 389.2,93.9 390.3,91.8 391.3,91.4 392.4,84.3 393.4,88.2 394.5,83.8 395.5,80.4 396.6,76.4 397.6,75.6 398.7,79.5 399.7,73.9 400.8,76.2 401.8,78.3 402.9,77.1 403.9,77.9 405.0,70.8 406.0,67.4 407.1,73.9 408.1,70.9 409.2,73.1 410.2,68.9 411.3,72.8 412.3,71.5 413.4,71.0 414.4,70.2 415.5,70.2 416.5,70.4 417.6,71.4 418.6,74.9 419.7,71.1 420.7,80.0 421.8,75.3 422.8,80.6 423.9,78.7 424.9,80.0 426.0,89.4 427.0,83.5 428.1,82.3 429.1,86.3 430.2,89.8 431.2,100.2 432.3,96.2 433.3,101.0 434.4,97.3 435.4,104.0 436.5,107.4 437.5,113.2 438.6,108.0 439.6,114.9 440.7,116.9 441.7,115.6 442.8,121.2 443.8,122.8 444.9,118.8 445.9,129.4 447.0,131.0 448.0,129.7 449.1,128.7 450.1,138.4 451.2,136.4 452.2,140.0 453.3,142.6 454.3,138.6 455.4,143.8 456.4,142.3 457.5,144.2 458.5,145.6 459.6,147.3 460.6,152.0 461.7,150.9 462.7,151.8 463.8,153.2 464.8,156.5 465.9,154.9 466.9,157.5 468.0,160.2 469.0,160.4 470.1,163.0 471.1,163.2 472.2,171.3 473.2,171.0 474.3,170.1 475.3,170.3 476.4,177.2 477.4,174.0 478.5,174.4 479.5,176.8 480.6,178.1 481.6,182.1 482.7,179.9 483.7,186.0 484.8,180.1 485.8,184.8 486.9,181.9 487.9,189.3 489.0,185.3 490.0,186.9 491.1,189.8 492.1,190.8 493.2,185.4 494.2,186.9 495.3,184.2 496.3,187.3 497.4,186.2 498.4,184.7 499.5,182.9 500.5,183.1 501.6,182.4 502.6,185.8 503.7,188.8 504.7,181.8 505.8,186.9 506.8,187.7 507.9,191.6 508.9,190.3 510.0,193.6 511.0,193.2 512.1,198.3 513.1,198.3 514.2,199.0 515.2,201.2 516.3,200.9 517.3,199.1 518.4,204.2 519.4,204.2 520.5,203.7 521.5,205.9 522.6,206.4 523.6,201.9 524.7,202.5 525.7,206.7 526.8,206.1 527.8,201.6 528.9,200.8 529.9,202.1 531.0,202.7 532.0,200.9 533.1,204.0 534.1,201.3 535.2,201.2 536.2,205.0" fill="none" stroke="#8a5252" stroke-width="1.4" stroke-linejoin="round"/>
<rect x="300.9" y="28.4" width="236.0" height="190.4" fill="none" stroke="#000" stroke-width="1.45"/>
<line x1="301.1" y1="218.8" x2="301.1" y2="222.6" stroke="#000" stroke-width="1"/>
<text transform="translate(301.1,234.4) scale(0.93,1)" font-size="12.2" text-anchor="middle" font-family="'Liberation Serif', serif">400</text>
<line x1="320.7" y1="218.8" x2="320.7" y2="220.8" stroke="#000" stroke-width="1"/>
<line x1="340.4" y1="218.8" x2="340.4" y2="222.6" stroke="#000" stroke-width="1"/>
<text transform="translate(340.4,234.4) scale(0.93,1)" font-size="12.2" text-anchor="middle" font-family="'Liberation Serif', serif">450</text>
<line x1="360.0" y1="218.8" x2="360.0" y2="220.8" stroke="#000" stroke-width="1"/>
<line x1="379.6" y1="218.8" x2="379.6" y2="222.6" stroke="#000" stroke-width="1"/>
<text transform="translate(379.6,234.4) scale(0.93,1)" font-size="12.2" text-anchor="middle" font-family="'Liberation Serif', serif">500</text>
<line x1="399.2" y1="218.8" x2="399.2" y2="220.8" stroke="#000" stroke-width="1"/>
<line x1="418.9" y1="218.8" x2="418.9" y2="222.6" stroke="#000" stroke-width="1"/>
<text transform="translate(418.9,234.4) scale(0.93,1)" font-size="12.2" text-anchor="middle" font-family="'Liberation Serif', serif">550</text>
<line x1="438.5" y1="218.8" x2="438.5" y2="220.8" stroke="#000" stroke-width="1"/>
<line x1="458.1" y1="218.8" x2="458.1" y2="222.6" stroke="#000" stroke-width="1"/>
<text transform="translate(458.1,234.4) scale(0.93,1)" font-size="12.2" text-anchor="middle" font-family="'Liberation Serif', serif">600</text>
<line x1="477.7" y1="218.8" x2="477.7" y2="220.8" stroke="#000" stroke-width="1"/>
<line x1="497.4" y1="218.8" x2="497.4" y2="222.6" stroke="#000" stroke-width="1"/>
<text transform="translate(497.4,234.4) scale(0.93,1)" font-size="12.2" text-anchor="middle" font-family="'Liberation Serif', serif">650</text>
<line x1="517.0" y1="218.8" x2="517.0" y2="220.8" stroke="#000" stroke-width="1"/>
<line x1="536.6" y1="218.8" x2="536.6" y2="222.6" stroke="#000" stroke-width="1"/>
<text transform="translate(536.6,234.4) scale(0.93,1)" font-size="12.2" text-anchor="middle" font-family="'Liberation Serif', serif">700</text>
<line x1="300.9" y1="195.0" x2="302.6" y2="195.0" stroke="#000" stroke-width="1"/>
<line x1="300.9" y1="171.0" x2="304.6" y2="171.0" stroke="#000" stroke-width="1"/>
<line x1="300.9" y1="147.0" x2="302.6" y2="147.0" stroke="#000" stroke-width="1"/>
<line x1="300.9" y1="123.0" x2="304.6" y2="123.0" stroke="#000" stroke-width="1"/>
<line x1="300.9" y1="99.0" x2="302.6" y2="99.0" stroke="#000" stroke-width="1"/>
<line x1="300.9" y1="75.0" x2="304.6" y2="75.0" stroke="#000" stroke-width="1"/>
<line x1="300.9" y1="51.0" x2="302.6" y2="51.0" stroke="#000" stroke-width="1"/>
<text x="419.2" y="248.5" font-size="13.9" text-anchor="middle" font-family="'Liberation Serif', serif">Wavelength (nm)</text>
<text transform="translate(291.2,123.2) rotate(-90)" font-size="13.8" text-anchor="middle" font-family="'Liberation Serif', serif">Intensity (a.u.)</text>
<line x1="305" y1="36.4" x2="328" y2="36.4" stroke="#5b93d3" stroke-width="1.1"/>
<text x="329.6" y="39.8" font-size="9.9" font-family="'Liberation Serif', serif">1.9W (without 254 nm light irraditation<tspan x="492.2">)</tspan></text>
<line x1="305" y1="48.6" x2="328" y2="48.6" stroke="#ef4343" stroke-width="1.1"/>
<text x="329.6" y="52.0" font-size="9.9" font-family="'Liberation Serif', serif">0.3W</text>
<line x1="305" y1="60.8" x2="328" y2="60.8" stroke="#2f6fe0" stroke-width="1.1"/>
<text x="329.6" y="64.2" font-size="9.9" font-family="'Liberation Serif', serif">0.5W</text>
<line x1="305" y1="73.0" x2="328" y2="73.0" stroke="#3fb06e" stroke-width="1.1"/>
<text x="329.6" y="76.4" font-size="9.9" font-family="'Liberation Serif', serif">0.7W</text>
<line x1="305" y1="85.2" x2="328" y2="85.2" stroke="#b47be6" stroke-width="1.1"/>
<text x="329.6" y="88.6" font-size="9.9" font-family="'Liberation Serif', serif">1.0W</text>
<line x1="305" y1="97.4" x2="328" y2="97.4" stroke="#d9a21c" stroke-width="1.1"/>
<text x="329.6" y="100.8" font-size="9.9" font-family="'Liberation Serif', serif">1.3W</text>
<line x1="305" y1="109.6" x2="328" y2="109.6" stroke="#3ccfd9" stroke-width="1.1"/>
<text x="329.6" y="113.0" font-size="9.9" font-family="'Liberation Serif', serif">1.7W</text>
<line x1="305" y1="121.8" x2="328" y2="121.8" stroke="#8a5252" stroke-width="1.1"/>
<text x="329.6" y="125.2" font-size="9.9" font-family="'Liberation Serif', serif">1.9W</text>
</svg>
</body></html>
